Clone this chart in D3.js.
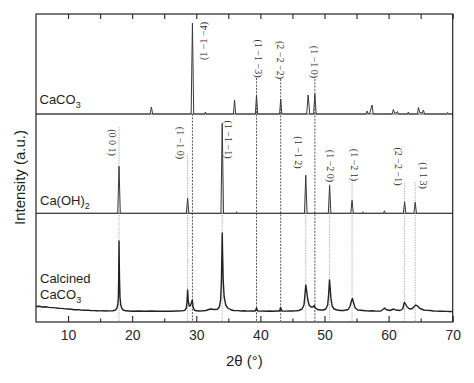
<!DOCTYPE html>
<html>
<head>
<meta charset="utf-8">
<script src="https://cdn.jsdelivr.net/npm/d3@7"></script>
<style>
  html, body { margin: 0; padding: 0; background: #fff; }
  svg { display: block; }
  text { fill: #1e1e1e; }
</style>
</head>
<body>
<svg id="chart" width="474" height="383"></svg>
<script>
// ---------------- DATA (2θ in degrees, intensity in a.u. above each pattern's baseline) -------------
const xTicksMajor = [10, 20, 30, 40, 50, 60, 70];
const xTicksMinor = [15, 25, 35, 45, 55, 65];

const seriesNames = ["CaCO₃", "Ca(OH)₂", "Calcined CaCO₃"];

// Pure calcite pattern
const caco3Pattern = [
  [5,0],[22.8,0],[23.0,7],[23.2,0],[29.2,0],[29.4,91],[29.6,0],[31.3,0],[31.42,2],[31.55,0],
  [35.8,0],[35.97,14],[36.15,0],[39.22,0],[39.4,19],[39.58,0],[43.0,0],[43.17,15],[43.35,0],
  [47.22,0],[47.45,19],[47.7,0],[48.3,0],[48.5,20],[48.7,0],
  [56.5,0],[56.65,3],[56.8,0.5],[57.05,0.5],[57.42,9],[57.6,0],
  [60.55,0],[60.74,4.5],[60.95,1],[61.15,1],[61.38,2.5],[61.55,0],
  [62.95,0],[63.08,2],[63.2,0],[64.5,0],[64.66,6.5],[64.85,1.5],[65.25,1],[65.44,4],[65.6,0],
  [69.05,0],[69.2,1.5],[69.35,0],[70,0]
];

// Portlandite pattern
const caoh2Pattern = [
  [5,0],[17.75,0],[17.95,47],[18.15,0],[28.45,0],[28.65,15],[28.85,0],
  [33.85,0],[34.05,90],[34.25,0],[36.2,0],[36.3,1.5],[36.4,0],
  [46.88,0],[47.08,38],[47.28,0],[50.6,0],[50.8,28],[51.0,0],
  [54.1,0],[54.3,13],[54.5,0],[55.9,0],[56.0,1.5],[56.1,0],
  [59.2,0],[59.35,2.5],[59.5,0],[62.3,0],[62.5,11.5],[62.7,0],
  [63.95,0],[64.15,11],[64.35,0],[70,0]
];

// Calcined CaCO3 pattern (absolute, includes background)
const calcinedPattern = [
  [5,15.5],[5.5,15.8],[6,15],[6.5,15.2],[7,14.6],[7.5,14.4],[8,14.1],[8.5,13.7],[9,13.6],[9.5,13.1],
  [10,13],[10.5,12.8],[11,12.3],[11.5,12.4],[12,12],[12.5,11.8],[13,11.9],[13.5,11.5],[14,11.4],
  [14.5,11.3],[15,11.1],[15.5,11.2],[16,11],[16.5,11.1],[17,11.3],[17.4,12],[17.6,13.5],[17.75,17],
  [17.85,25],[17.9,45],[17.95,81],[18.02,45],[18.1,25],[18.22,17],[18.4,13.5],[18.6,12],[19,11.2],
  [19.5,11],[20,10.8],[21,11],[22,10.7],[23,11],[24,10.8],[25,10.9],[26,10.7],[27,11],[27.8,11.3],
  [28.2,11.6],[28.45,14],[28.55,20],[28.65,32],[28.75,21],[28.9,16],[29.1,16.5],[29.38,22],[29.5,15],
  [29.7,12],[30,11.2],[30.5,11],[31,11.2],[31.5,11.5],[32.2,13],[32.8,12.5],[33.3,12.8],[33.6,15],
  [33.8,22],[33.92,40],[34.0,70],[34.05,89],[34.12,65],[34.2,42],[34.35,25],[34.6,17],[34.9,14],
  [35.3,12.5],[35.8,11.5],[36.5,11.4],[37,11],[37.5,11.2],[38,10.9],[38.5,11],[39.2,11],[39.4,14],
  [39.6,11],[40,10.9],[40.5,11],[41,10.7],[41.5,11],[42,10.8],[42.5,11],[43,11],[43.15,14.5],
  [43.35,11],[44,10.9],[44.5,11],[45,11],[45.5,11.2],[46,11.5],[46.5,13],[46.8,17],[46.95,27],
  [47.08,37],[47.2,32],[47.4,22],[47.6,17],[47.9,15],[48.2,15],[48.4,16.5],[48.6,14],[48.9,12.5],
  [49.3,12],[49.8,12],[50.2,13],[50.5,17],[50.65,28],[50.78,42],[50.9,33],[51.0,24],[51.2,16],
  [51.5,13],[52,12],[52.5,11.5],[53,11.5],[53.7,12.5],[54.0,16],[54.2,21],[54.35,23.5],[54.55,19],
  [54.8,14],[55.2,12],[56,11.5],[56.5,11.2],[57,11],[57.5,11.2],[58,10.9],[58.8,11],[59.2,13],
  [59.38,14],[59.6,12.5],[60.2,11.5],[60.6,12.5],[60.8,13],[61.1,12],[61.8,11.5],[62.2,13],
  [62.45,19.5],[62.65,18],[62.9,15],[63.3,13],[63.7,13.5],[64.0,15.5],[64.25,17],[64.5,16],
  [64.9,13.5],[65.5,12],[66,11.6],[66.5,11.5],[67,11],[67.5,10.9],[68,10.8],[68.5,10.7],[69,10.6],
  [69.5,10.5],[70,10.4]
];

// Reflection labels
const caco3Peaks  = [29.4, 39.4, 43.17, 48.5];
const caco3Labels = ["(1 \u22121 \u22124)", "(1 \u22121 \u22123)", "(2 \u22122 \u22122)", "(1 \u22121 0)"];
const caoh2Peaks  = [17.95, 28.65, 34.05, 47.08, 50.8, 54.3, 62.5, 64.15];
const caoh2Labels = ["(0 0 1)", "(1 \u22121 0)", "(1 \u22121 \u22121)", "(1 \u22121 2)", "(1 \u22122 0)",
                     "(1 \u22122 1)", "(2 \u22122 \u22121)", "(1 1 3)"];

// ---------------- LAYOUT (not data) ----------------
const W = 474, H = 383;
const plot = { left: 36, right: 452.7, top: 14, bottom: 322 };
const baseOffsets = [208, 108.7, 0];            // vertical stacking of the patterns (a.u.)
// label placement: [dx from line, top px, bottom px, rotation]
const caco3LabelPos = [[11, 22, 60, -90], [1.5, 40, 77, 90], [0, 42, 78, 90], [0, 46, 78, 90]];
const caco3LineTop  = [114, 78, 79, 79];
const caoh2LabelPos = [[-7, 128, 157], [-7.5, 128, 158], [6, 122, 157], [-7, 135, 170],
                       [0.5, 150, 182], [2, 148, 182], [-6.5, 148, 185], [8, 162, 189]];
const caoh2LineTop  = [127, 155, 125, 175, 184, 182, 183, 182];

const svg = d3.select("#chart");
const x = d3.scaleLinear().domain([5, 70]).range([plot.left, plot.right]);
const y = d3.scaleLinear().domain([0, 308]).range([plot.bottom, plot.top]);

// ---------------- reference lines ----------------
const gRef = svg.append("g");
gRef.selectAll("line.ca")
  .data(caoh2Peaks)
  .join("line")
  .attr("x1", d => x(d)).attr("x2", d => x(d))
  .attr("y1", (d, i) => caoh2LineTop[i]).attr("y2", plot.bottom - 1)
  .attr("stroke", "#b8b8b8").attr("stroke-width", 1)
  .attr("stroke-dasharray", "1.5,1");
gRef.selectAll("line.cc")
  .data(caco3Peaks)
  .join("line")
  .attr("x1", d => x(d)).attr("x2", d => x(d))
  .attr("y1", (d, i) => caco3LineTop[i]).attr("y2", plot.bottom - 1)
  .attr("stroke", "#444").attr("stroke-width", 0.9)
  .attr("stroke-dasharray", "2,1.3");

// ---------------- patterns ----------------
const line = off => d3.line().x(d => x(d[0])).y(d => y(d[1] + off));
// baselines separating panels
[baseOffsets[0], baseOffsets[1]].forEach(o => {
  svg.append("line")
    .attr("x1", plot.left).attr("x2", plot.right)
    .attr("y1", y(o)).attr("y2", y(o))
    .attr("stroke", "#555").attr("stroke-width", 1);
});
svg.append("path").datum(caco3Pattern)
  .attr("d", line(baseOffsets[0]))
  .attr("fill", "none").attr("stroke", "#3a3a3a").attr("stroke-width", 1);
svg.append("path").datum(caoh2Pattern)
  .attr("d", line(baseOffsets[1]))
  .attr("fill", "none").attr("stroke", "#3a3a3a").attr("stroke-width", 1);
svg.append("path").datum(calcinedPattern)
  .attr("d", line(baseOffsets[2]))
  .attr("fill", "none").attr("stroke", "#222").attr("stroke-width", 1.4)
  .attr("stroke-linejoin", "round");

// ---------------- reflection labels ----------------
function addLabels(peaks, labels, pos) {
  svg.append("g").selectAll("text")
    .data(peaks)
    .join("text")
    .attr("transform", (d, i) => {
      const p = pos[i];
      const cx = x(d) + p[0];
      const cy = (p[1] + p[2]) / 2;
      const r = p[3] === undefined ? 90 : p[3];
      return `translate(${cx},${cy}) rotate(${r})`;
    })
    .attr("text-anchor", "middle")
    .attr("dominant-baseline", "central")
    .attr("font-family", "'Liberation Serif', 'DejaVu Serif', serif")
    .attr("font-size", 10)
    .style("fill", "#333")
    .text((d, i) => labels[i]);
}
addLabels(caco3Peaks, caco3Labels, caco3LabelPos);
addLabels(caoh2Peaks, caoh2Labels, caoh2LabelPos);

// ---------------- axes ----------------
const font = "'Liberation Sans', Arial, sans-serif";
const gB = svg.append("g").attr("transform", `translate(0,${plot.bottom})`)
  .call(d3.axisBottom(x).tickValues(xTicksMajor).tickSizeInner(-6).tickSizeOuter(0).tickPadding(8));
const gBm = svg.append("g").attr("transform", `translate(0,${plot.bottom})`)
  .call(d3.axisBottom(x).tickValues(xTicksMinor).tickSizeInner(-3.5).tickSizeOuter(0).tickFormat(""));
const gT = svg.append("g").attr("transform", `translate(0,${plot.top})`)
  .call(d3.axisTop(x).tickValues(xTicksMajor.concat(xTicksMinor)).tickSizeInner(-5).tickSizeOuter(0).tickFormat(""));
[gB, gBm, gT].forEach(g => {
  g.select(".domain").remove();
  g.selectAll(".tick line").attr("stroke", "#222").attr("stroke-width", 1.1);
});
gB.selectAll(".tick text")
  .attr("font-family", font).attr("font-size", 14).style("fill", "#2a2a2a");

// frame
svg.append("rect")
  .attr("x", plot.left).attr("y", plot.top)
  .attr("width", plot.right - plot.left).attr("height", plot.bottom - plot.top)
  .attr("fill", "none").attr("stroke", "#222").attr("stroke-width", 1.2);

// axis titles
svg.append("text")
  .attr("x", (plot.left + plot.right) / 2).attr("y", 366)
  .attr("text-anchor", "middle")
  .attr("font-family", font).attr("font-size", 15)
  .text("2\u03b8 (\u00b0)");
svg.append("text")
  .attr("transform", "translate(25,177.5) rotate(-90)")
  .attr("text-anchor", "middle")
  .attr("font-family", font).attr("font-size", 15)
  .text("Intensity (a.u.)");

// ---------------- pattern names ----------------
function chemLabel(parts, xPos, yBase) {
  const t = svg.append("text")
    .attr("x", xPos).attr("y", yBase)
    .attr("font-family", font).attr("font-size", 13);
  parts.forEach(p => {
    if (p.sub) {
      t.append("tspan").attr("font-size", 9).attr("dy", 4).text(p.t);
    } else {
      t.append("tspan").text(p.t);
    }
  });
}
chemLabel([{ t: "CaCO" }, { t: "3", sub: true }], 39.5, 104);
chemLabel([{ t: "Ca(OH)" }, { t: "2", sub: true }], 40, 205);
svg.append("text").attr("x", 40).attr("y", 283)
  .attr("font-family", font).attr("font-size", 13).text("Calcined");
chemLabel([{ t: "CaCO" }, { t: "3", sub: true }], 40, 299);
</script>
</body>
</html>
